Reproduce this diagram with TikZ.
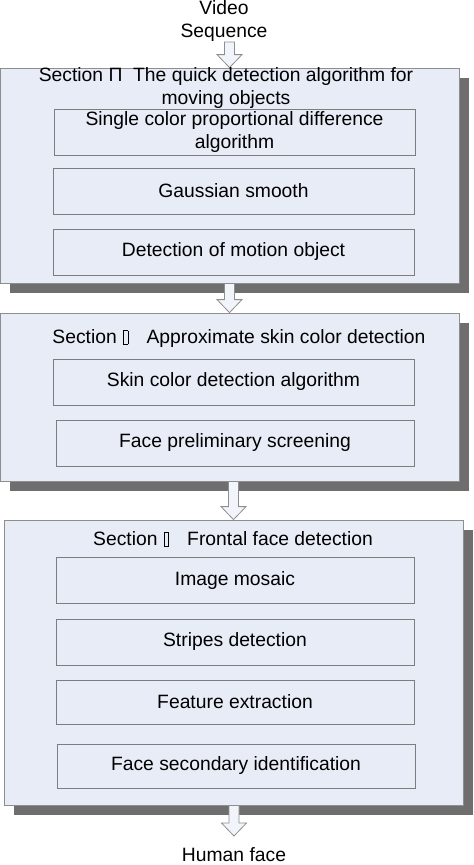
\documentclass[tikz,border=0pt]{standalone}
\usepackage{fontspec}
\setmainfont{Liberation Sans}
\usetikzlibrary{calc,positioning,shapes,shadows}
\definecolor{secfill}{HTML}{E7ECF6}
\definecolor{secline}{HTML}{8E8E8E}
\definecolor{stepline}{HTML}{7D7D7D}
\definecolor{shadowgray}{HTML}{6E6E6E}
\definecolor{arrowfill}{HTML}{F1F4FA}
\newcommand{\tofu}{\kern0.05em{\fboxsep=0pt\fboxrule=0.6pt\fbox{\rule{0pt}{0.68em}\hspace{0.2em}}}\kern0.05em}
\tikzset{
  big font/.style={font=\fontsize{19.3}{23.5}\selectfont},
  plain label/.style={inner sep=0pt,big font,align=center},
  section box/.style={
    draw=secline,
    fill=secfill,
    line width=0.8pt,
    inner sep=0pt,
    minimum width=459pt,
    drop shadow={shadow xshift=10pt,shadow yshift=-10pt,fill=shadowgray,draw=none,opacity=1,fill opacity=1}
  },
  stepbox/.style={draw=stepline,fill=secfill,line width=1pt,inner sep=0pt,
    minimum width=361pt,minimum height=46pt,big font,align=center},
  fat arrow/.style={draw=secline,fill=arrowfill,line width=0.8pt,line join=miter,
    to path={let \p1=(\tikztostart), \p2=(\tikztotarget) in
      (\x2-5pt,\y1) -- (\x2+5pt,\y1) -- (\x2+5pt,\y2+13pt) -- (\x2+12.5pt,\y2+13pt)
      -- (\x2,\y2) -- (\x2-12.5pt,\y2+13pt) -- (\x2-5pt,\y2+13pt) -- cycle}}
}

\begin{document}
\begin{tikzpicture}[x=1pt,y=-1pt]
  \useasboundingbox (0,0) rectangle (474,865);
  \node (video) [plain label,anchor=south] at (224,42) {Video\\Sequence};

  \node (sec1) [section box,minimum height=215pt] at (229.5,175.5) {};
  \node (diff) [stepbox] at (234.5,132) {Single color proportional difference\\algorithm};
  \node (gauss) [stepbox] at (233.5,191) {Gaussian smooth};
  \node (motion) [stepbox] at (233.5,252) {Detection of motion object};

  \node (sec2) [section box,minimum height=168pt] at (229.5,397) {};
  \node (skin) [stepbox] at (233.5,382) {Skin color detection algorithm};
  \node (screen) [stepbox,minimum width=358pt] at (235,443) {Face preliminary screening};

  \node (sec3) [section box,minimum height=285pt] at (233.5,662.5) {};
  \node (mosaic) [stepbox,minimum width=358pt] at (235,580.5) {Image mosaic};
  \node (stripes) [stepbox,minimum width=358pt] at (235,642) {Stripes detection};
  \node (feature) [stepbox,minimum width=358pt,minimum height=44pt] at (235,702) {Feature extraction};
  \node (secondid) [stepbox,minimum width=358pt,minimum height=44pt] at (236,766) {Face secondary identification};

  \node (human) [plain label,anchor=north,outer ysep=12pt] at (234,836) {Human face};

  \draw[fat arrow] (video.south) to (sec1.north);
  \draw[fat arrow] (sec1.south) to (sec2.north);
  \draw[fat arrow] (sec2.south) to (sec3.north);
  \draw[fat arrow] (sec3.south) to (human.north);

  \node (sec1_label) [plain label] at (226,88) {Section Π\ \ The quick detection algorithm for\\moving objects};
  \node (sec2_label) [plain label] at (239,339) {Section \tofu\hspace{0.9em}Approximate skin color detection};
  \node (sec3_label) [plain label] at (233,539) {Section \tofu\hspace{0.9em}Frontal face detection};
\end{tikzpicture}
\end{document}
